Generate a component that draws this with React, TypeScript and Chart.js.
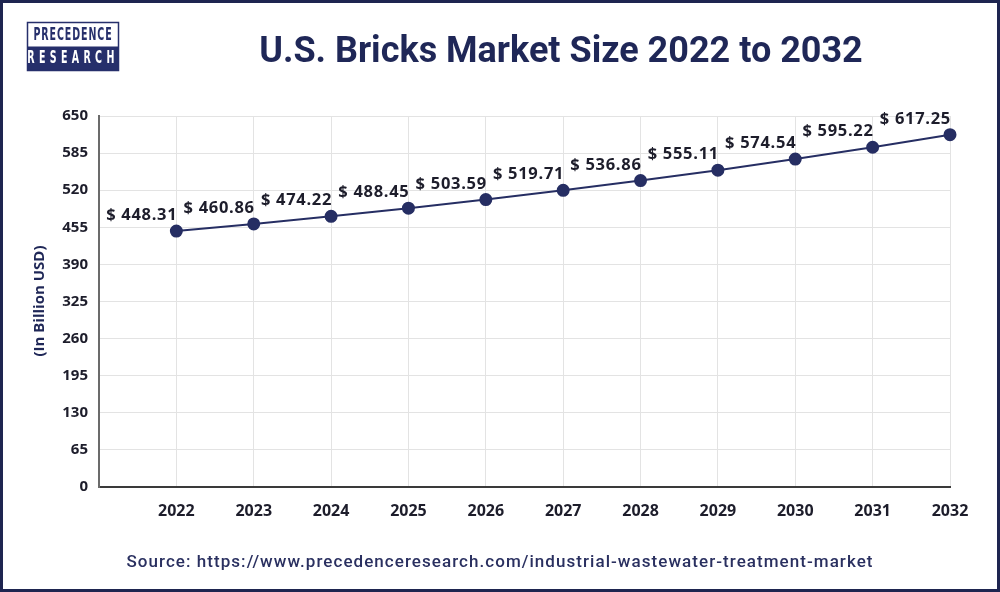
import React, { useEffect, useRef } from "react";
import { Chart, registerables } from "chart.js";

Chart.register(...registerables);

// Chart content
const TITLE = "U.S. Bricks Market Size 2022 to 2032";
const SOURCE = "Source: https://www.precedenceresearch.com/industrial-wastewater-treatment-market";
const Y_TITLE = "(In Billion USD)";
// leading blank slot keeps one empty step between the y axis and 2022
const YEARS = ["", "2022", "2023", "2024", "2025", "2026", "2027", "2028", "2029", "2030", "2031", "2032"];
const MARKET_SIZE = [null, 448.31, 460.86, 474.22, 488.45, 503.59, 519.71, 536.86, 555.11, 574.54, 595.22, 617.25];
const Y_MIN = 0;
const Y_MAX = 650;
const Y_STEP = 65;

const NAVY = "#1f2757";
const INK = "#1d1d2b";

function spacedText(ctx: CanvasRenderingContext2D, text: string, x: number, y: number, spacing: number) {
  (ctx as any).letterSpacing = spacing + "px";
  ctx.fillText(text, x, y);
  (ctx as any).letterSpacing = "0px";
}

const decorPlugin = {
  id: "decor",
  afterDraw(chart: any) {
    const ctx: CanvasRenderingContext2D = chart.ctx;
    const W = chart.width;
    const H = chart.height;
    ctx.save();

    // outer frame
    ctx.strokeStyle = "#1e2550";
    ctx.lineWidth = 3;
    ctx.strokeRect(1.5, 1.5, W - 3, H - 3);

    // logo block
    const lx = 27, ly = 22, lw = 92, lh = 49;
    ctx.fillStyle = "#ffffff";
    ctx.fillRect(lx, ly, lw, lh / 2);
    ctx.fillStyle = "#262f6b";
    ctx.fillRect(lx, ly + lh / 2, lw, lh / 2);
    ctx.strokeStyle = "#262f6b";
    ctx.lineWidth = 1.5;
    ctx.strokeRect(lx + 0.5, ly + 0.5, lw - 1, lh - 1);
    ctx.textAlign = "center";
    ctx.textBaseline = "middle";
    ctx.font = "bold 17px 'DejaVu Sans Condensed', 'DejaVu Sans'";
    ctx.save();
    ctx.translate(lx + lw / 2, ly + lh / 4 + 1);
    ctx.scale(0.62, 1);
    ctx.fillStyle = "#262f6b";
    spacedText(ctx, "PRECEDENCE", 0, 0, 1.5);
    ctx.restore();
    ctx.save();
    ctx.translate(lx + lw / 2, ly + (3 * lh) / 4);
    ctx.scale(0.62, 1);
    ctx.fillStyle = "#ffffff";
    spacedText(ctx, "RESEARCH", 0, 0, 7);
    ctx.restore();

    // title
    ctx.fillStyle = NAVY;
    ctx.font = "bold 36px Roboto, 'Open Sans', sans-serif";
    ctx.textAlign = "center";
    ctx.textBaseline = "middle";
    ctx.fillText(TITLE, 561, 53);

    // y axis title
    ctx.save();
    ctx.translate(40, 301);
    ctx.rotate(-Math.PI / 2);
    ctx.font = "bold 15px 'Open Sans', sans-serif";
    ctx.fillStyle = NAVY;
    ctx.fillText(Y_TITLE, 0, 0);
    ctx.restore();

    // source line
    ctx.font = "500 17px Roboto, sans-serif";
    ctx.fillStyle = "#2a3060";
    spacedText(ctx, SOURCE, 500, 563, 1.05);

    // value labels
    const meta = chart.getDatasetMeta(0);
    ctx.font = "bold 16.5px 'Open Sans', sans-serif";
    ctx.fillStyle = INK;
    ctx.textAlign = "right";
    ctx.textBaseline = "alphabetic";
    meta.data.forEach((pt: any, i: number) => {
      const v = MARKET_SIZE[i];
      if (v == null) return;
      spacedText(ctx, "$ " + v.toFixed(2), pt.x + 1, pt.y - 11, 0.7);
    });

    ctx.restore();
  },
};

export default function App() {
  const ref = useRef<HTMLCanvasElement | null>(null);

  useEffect(() => {
    if (!ref.current) return;
    const chart = new Chart(ref.current, {
      type: "line",
      data: {
        labels: YEARS,
        datasets: [
          {
            data: MARKET_SIZE as any,
            borderColor: "#262e63",
            backgroundColor: "#262e63",
            borderWidth: 2,
            pointRadius: 5.5,
            pointHoverRadius: 5.5,
            pointBackgroundColor: "#262e63",
            pointBorderColor: "#262e63",
            tension: 0,
            spanGaps: false,
          },
        ],
      },
      options: {
        responsive: false,
        animation: false,
        devicePixelRatio: 1,
        layout: { padding: { left: 0, top: 116, right: 50, bottom: 65 } },
        plugins: { legend: { display: false }, tooltip: { enabled: false }, title: { display: false } },
        scales: {
          x: {
            type: "category",
            offset: false,
            grid: { color: "#e3e3e3", lineWidth: 1, drawTicks: false },
            border: { color: "#3a3a3a", width: 2 },
            ticks: {
              color: INK,
              font: { family: "'Open Sans', sans-serif", weight: "bold", size: 16 },
              padding: 15,
              maxRotation: 0,
              autoSkip: false,
            },
            afterFit(scale: any) {
              scale.height = 40;
            },
          },
          y: {
            min: Y_MIN,
            max: Y_MAX,
            grid: { color: "#e3e3e3", lineWidth: 1, drawTicks: false },
            border: { color: "#6b6b6b", width: 2 },
            ticks: {
              stepSize: Y_STEP,
              color: INK,
              font: { family: "'Open Sans', sans-serif", weight: "bold", size: 15 },
              padding: 11,
            },
            afterFit(scale: any) {
              scale.width = 99;
            },
          },
        },
      },
      plugins: [decorPlugin],
    });
    return () => chart.destroy();
  }, []);

  return (
    <div style={{ position: "fixed", left: 0, top: 0, width: 1000, height: 592, background: "#ffffff" }}>
      <canvas ref={ref} width={1000} height={592} style={{ display: "block", width: 1000, height: 592 }} />
    </div>
  );
}
